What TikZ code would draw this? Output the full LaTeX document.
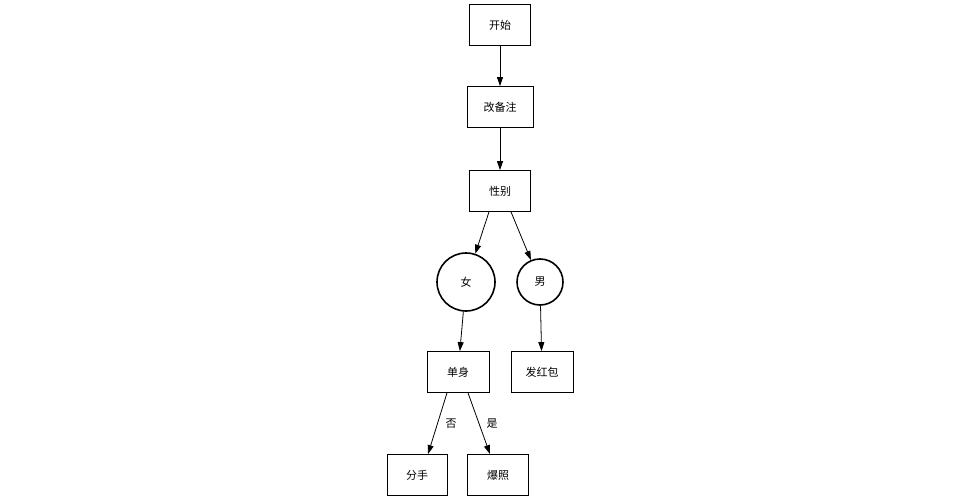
\documentclass[tikz,border=0pt]{standalone}
\usepackage{fontspec}
\setmainfont{Noto Sans CJK SC}
\usetikzlibrary{arrows.meta}
\begin{document}
\begin{tikzpicture}[x=1pt,y=-1pt,
  box/.style={draw,line width=0.8pt,minimum height=41pt,minimum width=61pt,inner sep=2pt,font=\fontsize{11}{13}\selectfont},
  circ/.style={draw,circle,line width=1.6pt,inner sep=0pt,font=\fontsize{11}{13}\selectfont},
  arr/.style={-{Triangle[length=9pt,width=6pt]},line width=0.8pt},
  lab/.style={font=\fontsize{11}{13}\selectfont}]
\path[use as bounding box] (0,0) rectangle (960,500);
\node[box] (start) at (500,25) {开始};
\node[box,minimum width=66pt] (note) at (500,107) {改备注};
\node[box] (sex) at (500,191) {性别};
\node[circ,minimum size=58pt] (f) at (466,282) {女};
\node[circ,minimum size=46pt] (m) at (540,282) {男};
\node[box,minimum width=62pt] (single) at (458,372) {单身};
\node[box,minimum width=62pt] (red) at (542,372) {发红包};
\node[box,minimum width=60pt] (split) at (417,475) {分手};
\node[box,minimum width=61pt] (photo) at (498,475) {爆照};
\draw[arr] (start) -- (note);
\draw[arr] (note) -- (sex);
\draw[arr] ([xshift=-11pt]sex.south) -- (f);
\draw[arr] ([xshift=11pt]sex.south) -- (m);
\draw[arr] (f) -- (single);
\draw[arr] (m) -- (red);
\draw[arr] ([xshift=-11pt]single.south) -- ([xshift=11pt]split.north);
\draw[arr] ([xshift=10pt]single.south) -- ([xshift=-8pt]photo.north);
\node[lab] (no) at (451,424) {否};
\node[lab] (yes) at (492,424) {是};
\end{tikzpicture}
\end{document}
